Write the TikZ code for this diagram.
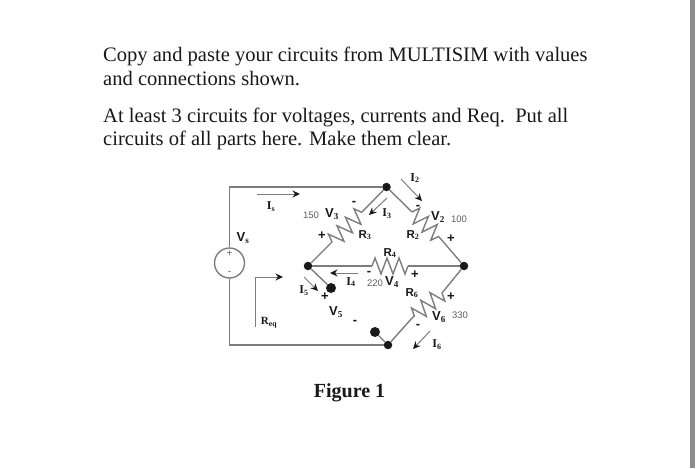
\documentclass[tikz,border=0pt]{standalone}
\usepackage{fontspec}
\setmainfont{Liberation Serif}
\setsansfont{Liberation Sans}
\usetikzlibrary{arrows,arrows.meta,positioning,calc,decorations.pathmorphing}
\definecolor{wiregray}{RGB}{125,125,125}
\definecolor{valgray}{RGB}{95,95,95}
\definecolor{bargray}{RGB}{140,140,140}
\definecolor{inkblack}{RGB}{25,25,25}
\tikzset{>=stealth',
          texto/.style={font=\fontsize{20.55}{24}\selectfont,text=inkblack,anchor=base west,inner sep=0pt},
          title/.style={font=\fontsize{20}{24}\selectfont\bfseries,text=inkblack,inner sep=0pt},
          wire/.style={draw=wiregray,line width=1.4pt},
          res/.style={wire,decorate,decoration={zigzag,segment length=12pt,amplitude=8pt}},
          junct/.style={circle,fill=inkblack,inner sep=0pt,minimum size=8.5pt},
          opendot/.style={circle,fill=inkblack,inner sep=0pt,minimum size=10pt},
          source/.style={circle,draw=wiregray,line width=1.4pt,fill=white,inner sep=0pt,minimum size=30pt},
          current/.style={draw=wiregray,line width=1pt,-{Stealth[length=7.5pt,width=7pt,color=inkblack]}},
          sym/.style={font=\sffamily\bfseries\fontsize{11.5}{12}\selectfont,text=inkblack,inner sep=0pt},
          symv/.style={font=\sffamily\bfseries\fontsize{13}{14}\selectfont,text=inkblack,inner sep=0pt},
          symi/.style={font=\bfseries\fontsize{12}{14}\selectfont,text=inkblack,inner sep=0pt},
          val/.style={font=\sffamily\fontsize{9.5}{10}\selectfont,text=valgray,inner sep=0pt},
          pol/.style={font=\sffamily\bfseries\fontsize{13}{13}\selectfont,text=inkblack,inner sep=0pt}
        }
\newcommand\Sub[2]{#1\ensuremath{_{\mathbf{#2}}}}
\begin{document}
\begin{tikzpicture}[x=1pt,y=-1pt]
            \useasboundingbox (0,0) rectangle (700,468);
            \fill[bargray] (690,0) rectangle (695,468);

            % text
            \node[texto] (line1) at (103,62) {Copy and paste your circuits from MULTISIM with values};
            \node[texto] (line2) at (103,85) {and connections shown.};
            \node[texto] (line3) at (103,122) {At least 3 circuits for voltages, currents and Req.\ \ Put all};
            \node[texto] (line4) at (103,145) {circuits of all parts here. Make them clear.};
            \node[title] (fig) at (349.5,393) {Figure 1};

            % junctions
            \node[junct] (ntop) at (386.5,187) {};
            \node[junct] (nright) at (464,266) {};
            \node[junct] (nleft) at (308,266) {};
            \node[junct] (nbot) at (388,345) {};
            \node[opendot] (dotup) at (331,288) {};
            \node[opendot] (dotlow) at (375,332) {};
            \node[source] (vsrc) at (229.5,263) {};

            \coordinate (r3a) at (332,242);
            \coordinate (r3b) at (362,212);
            \coordinate (r2a) at (412,212);
            \coordinate (r2b) at (440,238);
            \coordinate (r4a) at (372,266);
            \coordinate (r4b) at (408,266);
            \coordinate (r6a) at (442,293);
            \coordinate (r6b) at (412,318);

            \draw[wire] (vsrc.north) |- (ntop);
            \draw[wire] (vsrc.south) |- (nbot);
            \draw[wire] (nleft) -- (r3a);
            \draw[res] (r3a) -- (r3b);
            \draw[wire] (r3b) -- (ntop);
            \draw[wire] (ntop) -- (r2a);
            \draw[res] (r2a) -- (r2b);
            \draw[wire] (r2b) -- (nright);
            \draw[wire] (nleft) -- (r4a);
            \draw[res] (r4a) -- (r4b);
            \draw[wire] (r4b) -- (nright);
            \draw[wire] (nright) -- (r6a);
            \draw[res] (r6a) -- (r6b);
            \draw[wire] (r6b) -- (nbot);
            \draw[wire] (nleft) -- (dotup);
            \draw[wire] (dotlow) -- (nbot);

            % current arrows
            \coordinate (isa) at (257,194); \coordinate (isb) at (300,194);
            \coordinate (i2a) at (401,179); \coordinate (i2b) at (422,201);
            \coordinate (i3a) at (387,198); \coordinate (i3b) at (369,215);
            \coordinate (i4a) at (358,273); \coordinate (i4b) at (330,273);
            \coordinate (i5a) at (304,277); \coordinate (i5b) at (318,291);
            \coordinate (i6a) at (430,331); \coordinate (i6b) at (413,349);
            \coordinate (reqa) at (255,327); \coordinate (reqb) at (283,277);
            \draw[current] (isa) -- (isb);
            \draw[current] (i2a) -- (i2b);
            \draw[current] (i3a) -- (i3b);
            \draw[current] (i4a) -- (i4b);
            \draw[current] (i5a) -- (i5b);
            \draw[current] (i6a) -- (i6b);
            \draw[current] (reqa) |- (reqb);

            % labels
            \node[symv] (lvs) at (243,238) {\Sub{V}{s}};
            \node[symi] (lis) at (271,207) {\Sub{I}{s}};
            \node[val] (v150) at (311,215) {150};
            \node[symv] (lv3) at (332,214) {\Sub{V}{3}};
            \node[sym] (lr3) at (365,235) {\Sub{R}{3}};
            \node[symi] (li3) at (387,214) {\Sub{I}{3}};
            \node[symi] (li2) at (415,178) {\Sub{I}{2}};
            \node[symv] (lv2) at (438,217) {\Sub{V}{2}};
            \node[val] (v100) at (459,219) {100};
            \node[sym] (lr2) at (413,235) {\Sub{R}{2}};
            \node[sym] (lr4) at (390,253) {\Sub{R}{4}};
            \node[symi] (li4) at (351,282) {\Sub{I}{4}};
            \node[val] (v220) at (375,283) {220};
            \node[symv] (lv4) at (392,282) {\Sub{V}{4}};
            \node[sym] (lr6) at (412,293) {\Sub{R}{6}};
            \node[symv] (lv6) at (439,317) {\Sub{V}{6}};
            \node[val] (v330) at (460,315) {330};
            \node[symi] (li6) at (437,345) {\Sub{I}{6}};
            \node[symi] (li5) at (304,291) {\Sub{I}{5}};
            \node[symv] (lv5) at (336,312) {\Sub{V}{5}};
            \node[symi,font=\bfseries\fontsize{11}{12}\selectfont] (lreq) at (269,323) {\Sub{R}{eq}};

            % polarity
            \node[pol] (p3) at (322,236) {+};
            \node[pol] (m3) at (354,203) {-};
            \node[pol] (m2) at (418,207) {-};
            \node[pol] (p2) at (451,239) {+};
            \node[pol] (m4) at (369,273) {-};
            \node[pol] (p4) at (415,275) {+};
            \node[pol] (p6) at (451,297) {+};
            \node[pol] (m6) at (418,326) {-};
            \node[pol] (p5) at (325,297) {+};
            \node[pol] (m5) at (355,322) {-};
            \node[font=\sffamily\fontsize{10}{10}\selectfont,text=valgray,inner sep=0pt] (ps) at (229.5,254) {+};
            \node[font=\sffamily\fontsize{10}{10}\selectfont,text=valgray,inner sep=0pt] (ms) at (229.5,273) {-};
          \end{tikzpicture}
\end{document}
